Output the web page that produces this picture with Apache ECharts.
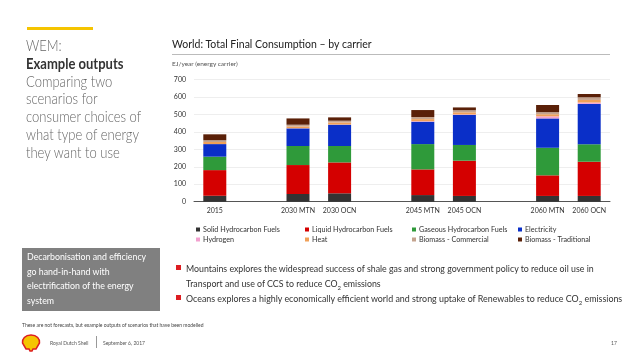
<!DOCTYPE html>
<html><head><meta charset="utf-8">
<script src="https://cdn.jsdelivr.net/npm/echarts@6/dist/echarts.min.js"></script>
<style>
html,body{margin:0;padding:0;background:#fff;}
#wrap{position:relative;width:638px;height:359px;overflow:hidden;font-family:Lato,"Open Sans",sans-serif;}
#chart{position:absolute;left:0;top:0;width:638px;height:359px;}
.t{position:absolute;white-space:nowrap;}
</style></head>
<body><div id="wrap">
<div id="chart"></div>
<div class="t" style="left:27px;top:27px;width:66px;height:3px;background:#f5c400;"></div>
<div class="t" style="left:26px;top:37px;font-size:14.8px;line-height:17.8px;color:#666;font-weight:300;transform:scaleX(0.88);transform-origin:0 0;">WEM:<br><b style="font-weight:700;color:#333;">Example outputs</b><br>Comparing two<br>scenarios for<br>consumer choices of<br>what type of energy<br>they want to use</div>
<div class="t" style="left:172px;top:38px;font-size:10.5px;color:#222;">World: Total Final Consumption – by carrier</div>
<div class="t" style="left:172px;top:54px;width:438px;height:1px;background:#bbb;"></div>
<div class="t" style="left:172px;top:60px;font-size:6.5px;color:#555;">EJ/year (energy carrier)</div>
<div class="t" style="left:22px;top:248px;width:138px;height:63px;background:#808080;"></div>
<div class="t" style="left:27px;top:250px;font-size:8.8px;line-height:14.7px;color:#fff;">Decarbonisation and efficiency<br>go hand-in-hand with<br>electrification of the energy<br>system</div>
<div class="t" style="left:176px;top:265px;width:5px;height:5px;background:#dd1d21;"></div>
<div class="t" style="left:176px;top:295px;width:5px;height:5px;background:#dd1d21;"></div>
<div class="t" style="left:186px;top:261px;font-size:8.8px;line-height:15px;color:#333;">Mountains explores the widespread success of shale gas and strong government policy to reduce oil use in<br>Transport and use of CCS to reduce CO<sub style="font-size:6px">2</sub> emissions</div>
<div class="t" style="left:186px;top:291px;font-size:8.9px;line-height:15px;color:#333;">Oceans explores a highly economically efficient world and strong uptake of Renewables to reduce CO<sub style="font-size:6px">2</sub> emissions</div>
<div class="t" style="left:22px;top:322px;font-size:5px;color:#444;">These are not forecasts, but example outputs of scenarios that have been modelled</div>
<svg class="t" style="left:21px;top:334px" width="20" height="18" viewBox="0 0 20 18">
<path d="M10 1 C4 1 1 5 1.5 9 L5 15 L8 15 L9 17 L11 17 L12 15 L15 15 L18.5 9 C19 5 16 1 10 1 Z" fill="#f5c400" stroke="#dd1d21" stroke-width="1.5"/>
</svg>
<div class="t" style="left:50px;top:340px;font-size:5px;color:#555;">Royal Dutch Shell</div>
<div class="t" style="left:96px;top:336px;width:1px;height:12px;background:#999;"></div>
<div class="t" style="left:103px;top:340px;font-size:5px;color:#555;">September 6, 2017</div>
<div class="t" style="left:611px;top:340px;font-size:5px;color:#555;">17</div>
</div>
<script>
var scenarios = ['2015','2030 MTN','2030 OCN','2045 MTN','2045 OCN','2060 MTN','2060 OCN'];
var yTicks = [0,100,200,300,400,500,600,700];
var solid      = [34, 44, 48, 38, 33, 33, 33];
var liquid     = [147,166,177,147,202,118,196];
var gaseous    = [77, 109, 94, 145, 90, 158, 100];
var electricity= [72, 101,122,128,172,168,231];
var hydrogen   = [0,  1,  1,  3,  3,  12, 8];
var heat       = [12, 10, 12, 12, 12, 12, 15];
var bioComm    = [10, 10, 10, 12, 12, 12, 15];
var bioTrad    = [34, 36, 19, 40, 16, 41, 19];

var names = ['Solid Hydrocarbon Fuels','Liquid Hydrocarbon Fuels','Gaseous Hydrocarbon Fuels','Electricity','Hydrogen','Heat','Biomass - Commercial','Biomass - Traditional'];
var values = [solid,liquid,gaseous,electricity,hydrogen,heat,bioComm,bioTrad];
var colors = ['#333333','#d40000','#2f9a3a','#0a2fc8','#f2a0cf','#f0a058','#c4a38e','#5a2008'];

// insert a blank slot before each scenario group (MTN marks group start)
var cats = [], idx = [];
scenarios.forEach(function(s,i){
  if (s.indexOf('MTN')>=0) cats.push('');
  idx.push(cats.length); cats.push(s);
});
function expand(arr){
  var out = cats.map(function(){return '-';});
  arr.forEach(function(v,i){ out[idx[i]] = v; });
  return out;
}
var series = names.map(function(n,k){
  return {name:n,type:'bar',stack:'t',barWidth:23,data:expand(values[k]),
    itemStyle:{color:colors[k]},emphasis:{disabled:true}};
});
var legendCols = [[0,4],[1,5],[2,6],[3,7]];
var legendLeft = [191,300,407,513];
var legends = legendCols.map(function(c,i){
  return {left:legendLeft[i],top:221,orient:'vertical',itemGap:3,itemWidth:4,itemHeight:4,icon:'rect',
    selectedMode:false,data:[names[c[0]],names[c[1]]],
    textStyle:{fontSize:7.2,color:'#333',fontFamily:'Lato',padding:[0,0,0,-2]}};
});
var chart = echarts.init(document.getElementById('chart'));
chart.setOption({
  animation:false,
  grid:{left:194,right:28,top:79.5,bottom:157.3},
  legend:legends,
  xAxis:{type:'category',data:cats,axisTick:{show:false},
    axisLine:{lineStyle:{color:'#555',width:1}},
    axisLabel:{fontSize:7,color:'#333',fontFamily:'Lato',margin:6,interval:0}},
  yAxis:{type:'value',min:yTicks[0],max:yTicks[yTicks.length-1],interval:100,
    axisLabel:{fontSize:7,color:'#333',fontFamily:'Lato',margin:8},
    splitLine:{lineStyle:{color:'#eeeeee'}},axisLine:{show:false},axisTick:{show:false}},
  series:series
});
</script>
</body></html>
